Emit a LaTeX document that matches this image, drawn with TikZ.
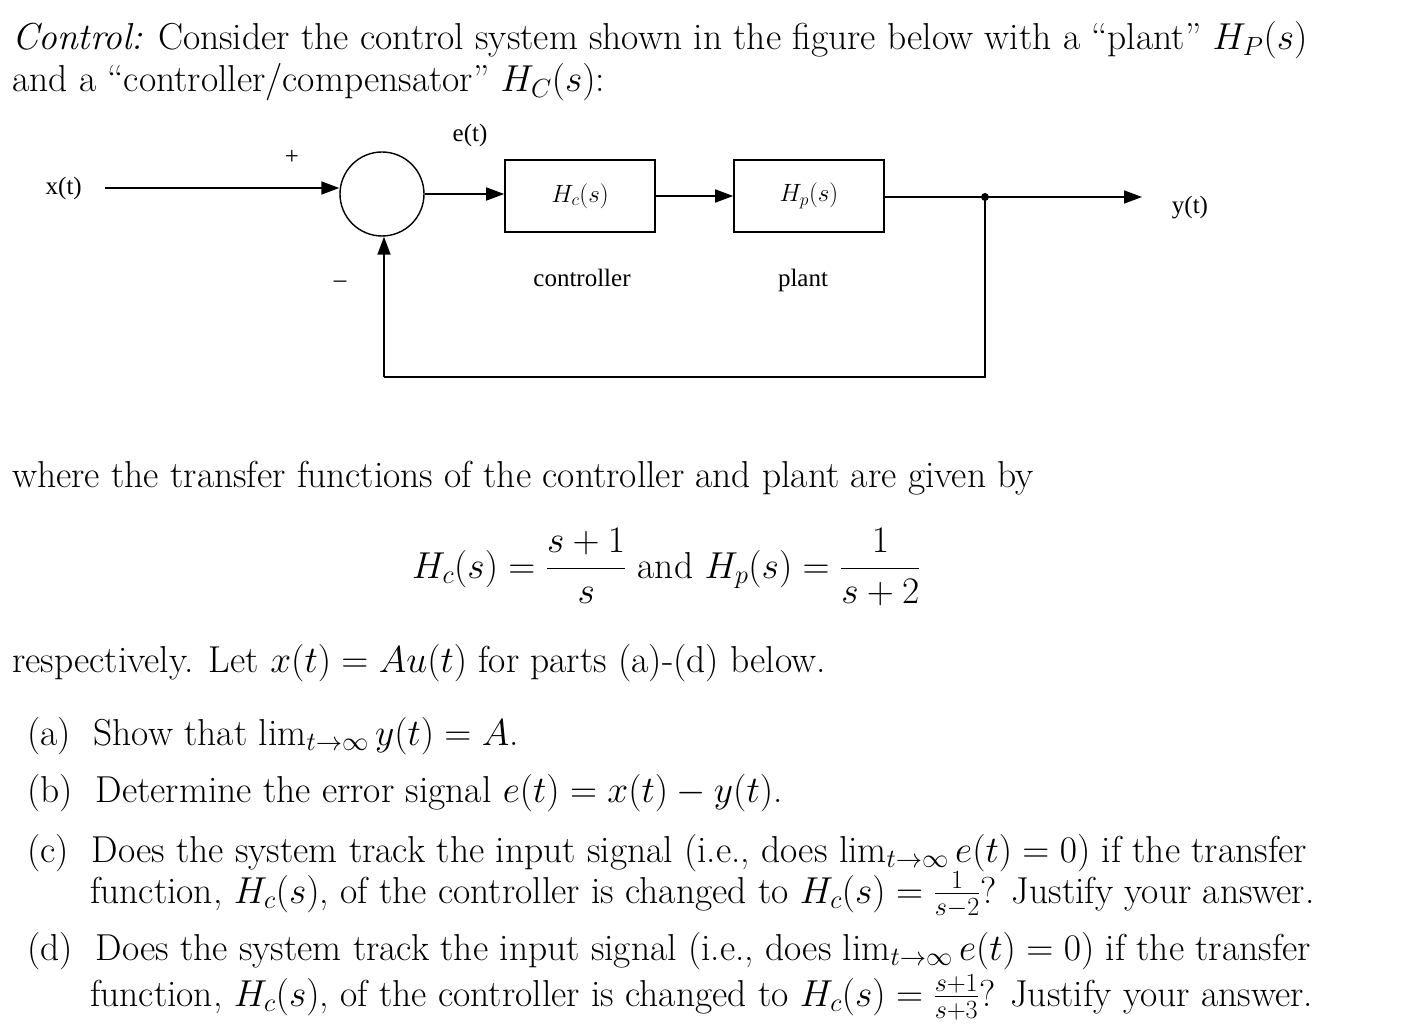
\RequirePackage{fix-cm}
\documentclass[tikz,border=0pt]{standalone}
\usepackage{amsmath}
\usepackage{fontspec}
\newfontfamily\dgm{Liberation Serif}
\usetikzlibrary{arrows.meta}
\begin{document}
\begin{tikzpicture}[x=1pt,y=-1pt,
  txt/.style={anchor=base west,inner sep=0pt,font=\fontsize{37.5}{44}\selectfont},
  lab/.style={inner sep=0pt,font=\dgm\fontsize{25}{29}\selectfont},
  blk/.style={draw,line width=1.6pt,minimum width=150pt,minimum height=72pt,inner sep=0pt},
  sig/.style={line width=1.6pt,-{Triangle[length=18pt,width=13pt]}},
  ln/.style={line width=1.6pt}]
\useasboundingbox (0,0) rectangle (1402,1032);
% text
\node[txt] (t1) at (12,50) {\textit{Control:} Consider the control system shown in the figure below with a ``plant'' $H_P(s)$};
\node[txt] (t2) at (12,92) {and a ``controller/compensator'' $H_C(s)$:};
\node[txt] (t3) at (12,487) {where the transfer functions of the controller and plant are given by};
\node[txt] (eq) at (412,578) {$H_c(s)=\dfrac{s+1}{s}\ \text{and}\ H_p(s)=\dfrac{1}{s+2}$};
\node[txt] (t4) at (12,672) {respectively. Let $x(t)=Au(t)$ for parts (a)-(d) below.};
\node[txt] (a) at (27,745) {(a)\ \ Show that $\lim_{t\to\infty}y(t)=A$.};
\node[txt] (b) at (27,802) {(b)\ \ Determine the error signal $e(t)=x(t)-y(t)$.};
\node[txt] (c1) at (27,862) {(c)\ \ Does the system track the input signal (i.e., does $\lim_{t\to\infty}e(t)=0$) if the transfer};
\node[txt] (c2) at (90,903) {function, $H_c(s)$, of the controller is changed to $H_c(s)=\frac{1}{s-2}$? Justify your answer.};
\node[txt] (d1) at (27,960) {(d)\ \ Does the system track the input signal (i.e., does $\lim_{t\to\infty}e(t)=0$) if the transfer};
\node[txt] (d2) at (90,1006) {function, $H_c(s)$, of the controller is changed to $H_c(s)=\frac{s+1}{s+3}$? Justify your answer.};
% diagram
\node[lab,anchor=east] (x) at (82,188) {x(t)};
\node[draw,circle,line width=1.4pt,minimum size=84pt,inner sep=0pt] (sum) at (382,194) {};
\node[blk] (hc) at (580,196) {\dgm\fontsize{25}{29}\selectfont$H_c(s)$};
\node[blk] (hp) at (809,196) {\dgm\fontsize{25}{29}\selectfont$H_p(s)$};
\node[lab] (y) at (1190,208) {y(t)};
\node[lab] (e) at (470,135) {e(t)};
\node[lab] (plus) at (292,157) {+};
\node[lab] (minus) at (340,284) {\textendash};
\node[lab] (ctl) at (582,278) {controller};
\node[lab] (pl) at (803,280) {plant};
\coordinate (xs) at (105,188);
\coordinate (dot) at (985,197);
\coordinate (ye) at (1142,197);
\coordinate (fb1) at (985,377);
\coordinate (fb2) at (384,377);
\draw[sig] (xs) -- (xs -| sum.west);
\draw[sig] (sum.east) -- (hc.west |- sum.east);
\draw[sig] (hc.east) -- (hp.west);
\draw[sig] (hp.east |- dot) -- (ye);
\fill (dot) circle (4pt);
\draw[ln] (dot) -- (fb1) -- (fb2);
\draw[sig] (fb2) -- (sum.south -| fb2);
\end{tikzpicture}
\end{document}
